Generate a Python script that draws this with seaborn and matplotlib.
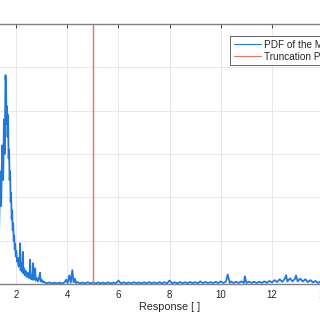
import numpy as np
import pandas as pd
import seaborn as sns
import matplotlib.pyplot as plt

# values
resp = [1.20, 1.28, 1.34, 1.38, 1.42, 1.46, 1.50, 1.53, 1.56, 1.59, 1.61, 1.63, 1.65, 1.67, 1.69,
        1.71, 1.73, 1.75, 1.77, 1.79, 1.81, 1.83, 1.85, 1.87, 1.89, 1.91, 1.93, 1.95, 1.97, 1.99,
        2.01, 2.04, 2.07, 2.10, 2.13, 2.16, 2.18, 2.21, 2.24, 2.27, 2.29, 2.32, 2.35, 2.38, 2.42,
        2.46, 2.50, 2.53, 2.55, 2.57, 2.60, 2.64, 2.67, 2.69, 2.72, 2.75, 2.77, 2.81, 2.85, 2.89,
        2.94, 2.96, 3.00, 3.04, 3.08,
        3.1, 3.2, 3.3, 3.4, 3.5, 3.6, 3.7, 3.8, 3.9, 3.96, 4.02, 4.08, 4.14, 4.20, 4.25, 4.30,
        4.35, 4.4, 4.5, 4.6, 4.7, 4.8, 4.9, 5.0, 5.1, 5.2, 5.3, 5.4, 5.5, 5.6, 5.7, 5.8, 5.9,
        6.0, 6.1, 6.2, 6.3, 6.4, 6.5, 6.6, 6.7, 6.8, 6.9, 7.0, 7.1, 7.2, 7.3, 7.4, 7.5, 7.6,
        7.7, 7.8, 7.9, 8.0, 8.1, 8.2, 8.3, 8.4, 8.5, 8.6, 8.7, 8.8, 8.9, 9.0, 9.1, 9.2, 9.3,
        9.4, 9.5, 9.6, 9.7, 9.8, 9.9, 10.0, 10.1, 10.2, 10.27, 10.35, 10.4, 10.5, 10.6, 10.7,
        10.8, 10.9, 10.94, 11.0, 11.1, 11.2, 11.3, 11.4, 11.5, 11.6, 11.7, 11.8, 11.9, 12.0,
        12.1, 12.2, 12.3, 12.4, 12.5, 12.55, 12.6, 12.7, 12.8, 12.9, 12.94, 13.0, 13.1, 13.2,
        13.3, 13.4, 13.5, 13.6, 13.7, 13.8, 13.9, 14.0, 14.1, 14.2, 14.3, 14.4, 14.5, 14.6,
        14.7, 14.8, 14.9, 15.0]
pdf = [0.00, 0.15, 0.60, 1.30, 0.90, 1.60, 1.20, 1.90, 1.50, 2.41, 2.30, 1.85, 2.05, 1.70, 1.95,
       1.45, 1.55, 1.20, 1.30, 0.95, 1.05, 0.75, 0.85, 0.62, 0.70, 0.50, 0.56, 0.40, 0.46, 0.32,
       0.38, 0.26, 0.30, 0.20, 0.22, 0.47, 0.16, 0.24, 0.14, 0.37, 0.12, 0.18, 0.10, 0.15, 0.08,
       0.13, 0.07, 0.11, 0.28, 0.06, 0.10, 0.05, 0.24, 0.05, 0.08, 0.18, 0.04, 0.07, 0.03, 0.06,
       0.13, 0.03, 0.05, 0.02, 0.03,
       0.020, 0.008, 0.018, 0.006, 0.015, 0.007, 0.016, 0.006, 0.020, 0.050, 0.010, 0.100, 0.015,
       0.160, 0.020, 0.060, 0.010, 0.022, 0.007, 0.018, 0.006, 0.020, 0.008, 0.017, 0.006, 0.018,
       0.008, 0.016, 0.006, 0.019, 0.007, 0.017, 0.008, 0.040, 0.007, 0.020, 0.008, 0.018, 0.007,
       0.021, 0.009, 0.018, 0.007, 0.020, 0.008, 0.022, 0.009, 0.019, 0.008, 0.021, 0.009, 0.020,
       0.008, 0.040, 0.009, 0.020, 0.008, 0.022, 0.010, 0.020, 0.009, 0.023, 0.010, 0.021, 0.009,
       0.030, 0.010, 0.024, 0.011, 0.022, 0.010, 0.025, 0.011, 0.030, 0.012, 0.028, 0.110, 0.012,
       0.030, 0.011, 0.026, 0.012, 0.030, 0.013, 0.090, 0.012, 0.028, 0.012, 0.026, 0.011, 0.027,
       0.012, 0.030, 0.014, 0.035, 0.018, 0.045, 0.022, 0.055, 0.025, 0.060, 0.100, 0.028, 0.065,
       0.030, 0.060, 0.100, 0.030, 0.062, 0.028, 0.055, 0.022, 0.045, 0.018, 0.035, 0.012, 0.030,
       0.010, 0.025, 0.008, 0.020, 0.008, 0.018, 0.007, 0.016, 0.006, 0.015, 0.006]
truncation = 5.0

df = pd.DataFrame({'Response': resp, 'PDF': pdf})

sns.set_style('white')
plt.rcParams['font.family'] = ['Liberation Sans', 'DejaVu Sans']

fig = plt.figure(figsize=(3.2, 3.2), dpi=100)
# axes run past the picture edges on left and right, like the cropped reference
ax = fig.add_axes([-35.2 / 320, 36 / 320, 409.6 / 320, 260 / 320])

sns.lineplot(data=df, x='Response', y='PDF', ax=ax, color='#2277dd', lw=1.3,
             label='PDF of the Model Response')
ax.axvline(truncation, color='#e8735f', lw=1.0, label='Truncation Point')

ax.set_xlim(0, 16)
ax.set_ylim(0, 3)
ax.set_xticks(np.arange(0, 17, 2))
ax.set_yticks(np.arange(0, 3.01, 0.5))
ax.grid(True, color='#e4e4e4', lw=0.6)
ax.set_axisbelow(True)
ax.set_xlabel('Response [ ]', fontsize=7.8, color='#262626', labelpad=1.5)
ax.set_ylabel('')
ax.tick_params(direction='in', top=True, right=True, length=3, width=0.6,
               labelsize=7, colors='#262626', pad=4.5)
for s in ax.spines.values():
    s.set_color('#808080')
    s.set_linewidth(1.0)

leg = ax.legend(loc='upper left', bbox_to_anchor=(225 / 320, 1 - 31 / 320),
                bbox_transform=fig.transFigure, fontsize=7.2, frameon=True,
                fancybox=False, edgecolor='#222222', handlelength=2.7,
                borderpad=0.35, labelspacing=0.2, handletextpad=0.3)
leg.get_frame().set_linewidth(0.6)
for line in leg.get_lines():
    line.set_linewidth(0.8)

fig.savefig('out.png', dpi=100)
